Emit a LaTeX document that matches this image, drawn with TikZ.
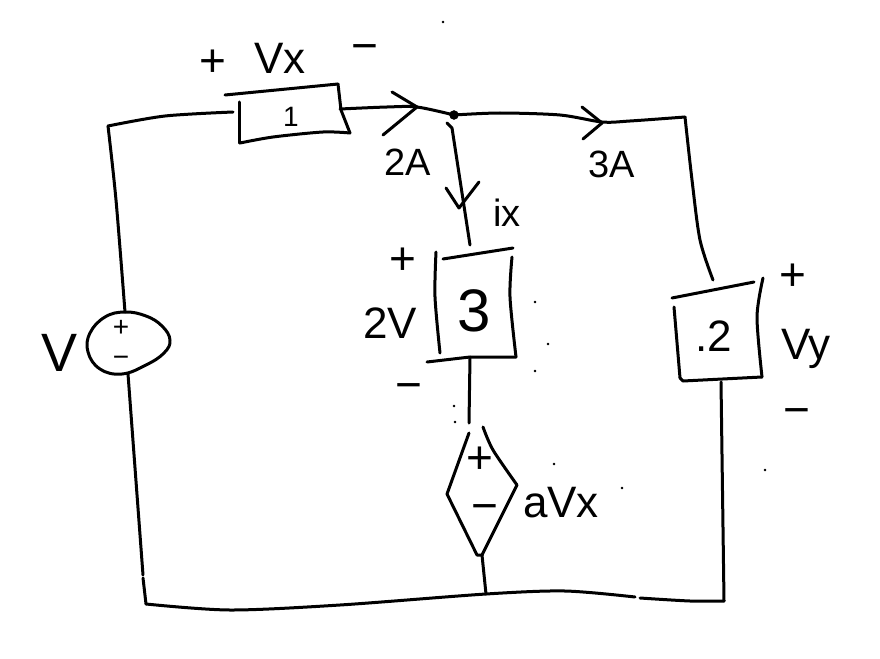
\documentclass[tikz,border=0pt]{standalone}
\usepackage{fontspec}
\setmainfont{Liberation Sans}
\tikzset{
  wire/.style={black, line width=3pt, line cap=round, line join=round},
  biglabel/.style={inner sep=0pt, font=\fontsize{44}{44}\selectfont},
  midlabel/.style={inner sep=0pt, font=\fontsize{38}{38}\selectfont},
  signlabel/.style={inner sep=0pt, font=\fontsize{46}{46}\selectfont},
  srclabel/.style={inner sep=0pt, font=\fontsize{28}{28}\selectfont}
}
\begin{document}
\begin{tikzpicture}[x=1pt,y=-1pt]
  \useasboundingbox (0,0) rectangle (880,658);

  % corners and junctions
  \coordinate (topleft) at (108,126);
  \coordinate (topright) at (685,117);
  \coordinate (botleft) at (146,604);
  \coordinate (botright) at (724,601);
  \coordinate (junction) at (454,115);
  \coordinate (midbot) at (486,594);

  % source on the left
  \coordinate (srctop) at (125,312);
  \coordinate (srcbot) at (128,374);
  \draw [wire] plot [smooth cycle, tension=0.7] coordinates {(srctop) (146,316) (162,326) (170,340) (164,353) (146,365) (122,374) (100,369) (88,352) (90,333) (105,317)};
  \draw [wire] plot [smooth] coordinates {(topleft) (116,200) (srctop)};
  \draw [wire] (srcbot) -- (143,575);
  \draw [wire] (143,578) -- (botleft);

  % top resistor
  \coordinate (rxleft) at (233,112);
  \coordinate (rxright) at (340,109);
  \draw [wire] plot [smooth] coordinates {(topleft) (165,116) (rxleft)};
  \draw [wire] (225,95) -- (338,84);
  \draw [wire] (338,84) -- (341,110) -- (350,133);
  \draw [wire] plot [smooth] coordinates {(350,133) (323,132) (273,137) (240,143)};
  \draw [wire] (239,102) -- (239,143);
  \draw [wire] plot [smooth] coordinates {(rxright) (387,107) (417,107) (junction)};
  \draw [wire] (392,92) -- (417,107) -- (383,135);
  \filldraw (junction) circle (4.5pt);

  % wire to the right branch
  \coordinate (rytop) at (713,280);
  \draw [wire] plot [smooth] coordinates {(junction) (500,113) (560,115) (602,122) (630,121) (topright)};
  \draw [wire] (582,107) -- (602,123) -- (583,139);
  \draw [wire] plot [smooth] coordinates {(topright) (692,180) (700,240) (rytop)};

  % right resistor
  \coordinate (rybot) at (721,382);
  \draw [wire] (672,298) -- (754,282);
  \draw [wire] plot [smooth] coordinates {(763,278) (757,317) (762,377)};
  \draw [wire] (762,377) -- (683,381) -- (680,378);
  \draw [wire] (674,307) -- (680,378);
  \draw [wire] (rybot) -- (botright);

  % middle branch
  \coordinate (r3top) at (470,245);
  \coordinate (r3bot) at (470,357);
  \coordinate (dptop) at (469,423);
  \coordinate (dpbot) at (482,555);
  \draw [wire] (447,123) -- (452,128) -- (r3top);
  \draw [wire] (446,188) -- (459,208) -- (479,182);
  \draw [wire] (443,259) -- (513,248);
  \draw [wire] plot [smooth] coordinates {(436,252) (435,297) (440,353)};
  \draw [wire] plot [smooth] coordinates {(512,257) (510,297) (516,357)};
  \draw [wire] (427,362) -- (r3bot) -- (516,357);
  \draw [wire] (r3bot) -- (dptop);

  % dependent source
  \draw [wire] (469,433) -- (447,494) -- (477,555) -- (dpbot);
  \draw [wire] plot [smooth] coordinates {(483,427) (493,450) (517,485)};
  \draw [wire] (517,485) -- (dpbot);
  \draw [wire] (dpbot) -- (midbot);

  % bottom wire
  \draw [wire] plot [smooth] coordinates {(botleft) (230,610) (340,605) (midbot) (565,591) (635,597)};
  \draw [wire] plot [smooth] coordinates {(640,598) (690,601) (botright)};

  % labels
  \node [signlabel] (vxplus) at (213,63) {+};
  \node [biglabel] (vxlabel) at (280,58) {Vx};
  \node [signlabel] (vxminus) at (365,53) {−};
  \node [srclabel] (rxvalue) at (291,117) {1};
  \node [midlabel] (twoa) at (408,162) {2A};
  \node [midlabel] (threea) at (612,164) {3A};
  \node [midlabel] (ixlabel) at (507,213) {ix};
  \node [signlabel] (rthreeplus) at (403,261) {+};
  \node [biglabel] (twov) at (390,323) {2V};
  \node [inner sep=0pt, font=\fontsize{60}{60}\selectfont] (rthreevalue) at (474,311) {3};
  \node [signlabel] (rthreeminus) at (409,392) {−};
  \node [signlabel] (dpplus) at (480,460) {+};
  \node [signlabel] (dpminus) at (485,513) {−};
  \node [biglabel] (avx) at (561,503) {aVx};
  \node [biglabel] (ryvalue) at (714,336) {.2};
  \node [signlabel] (ryplus) at (793,277) {+};
  \node [biglabel] (vylabel) at (806,349) {Vy};
  \node [signlabel] (ryminus) at (797,417) {−};
  \node [inner sep=0pt, font=\fontsize{54}{54}\selectfont] (vlabel) at (60,353) {V};
  \node [srclabel] (srcplus) at (121,328) {+};
  \node [srclabel] (srcminus) at (121,361) {−};

  % specks
  \foreach \x/\y in {443/22,535/302,548/344,535/371,454/406,455/422,622/488,554/464,765/470}
    \filldraw (\x,\y) circle (1pt);
\end{tikzpicture}
\end{document}
